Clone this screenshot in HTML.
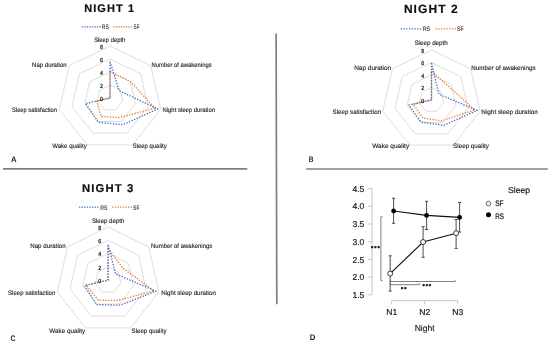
<!DOCTYPE html>
<html><head><meta charset="utf-8"><title>Figure</title>
<style>html,body{margin:0;padding:0;background:#fff;width:550px;height:343px;overflow:hidden}svg{display:block}</style>
</head><body>
<svg width="550" height="343" viewBox="0 0 550 343" text-rendering="geometricPrecision" font-family="Liberation Sans, Arial, sans-serif">
<line x1="3" y1="168.8" x2="247.3" y2="168.8" stroke="#808080" stroke-width="1.7"/>
<line x1="306.2" y1="169" x2="547.8" y2="169" stroke="#808080" stroke-width="1.7"/>
<line x1="276.1" y1="33.5" x2="276.8" y2="304.2" stroke="#808080" stroke-width="1.7"/>
<polygon points="110.00,85.00 120.16,89.89 122.67,100.89 115.64,109.71 104.36,109.71 97.33,100.89 99.84,89.89" fill="none" stroke="#D9D9D9" stroke-width="0.9"/>
<polygon points="110.00,72.00 130.33,81.79 135.35,103.79 121.28,121.43 98.72,121.43 84.65,103.79 89.67,81.79" fill="none" stroke="#D9D9D9" stroke-width="0.9"/>
<polygon points="110.00,59.00 140.49,73.68 148.02,106.68 126.92,133.14 93.08,133.14 71.98,106.68 79.51,73.68" fill="none" stroke="#D9D9D9" stroke-width="0.9"/>
<polygon points="110.00,46.00 150.66,65.58 160.70,109.57 132.56,144.85 87.44,144.85 59.30,109.57 69.34,65.58" fill="none" stroke="#D9D9D9" stroke-width="0.9"/>
<polygon points="110.00,71.35 130.58,81.59 154.68,108.20 119.45,117.62 101.12,116.45 96.69,101.04 110.00,98.00" fill="none" stroke="#ED7D31" stroke-width="1.35" stroke-dasharray="1.35 1.45" stroke-linejoin="round"/>
<polygon points="110.00,61.60 119.15,90.71 157.84,108.92 122.83,124.65 98.30,122.30 85.60,103.57 110.00,98.00" fill="none" stroke="#4472C4" stroke-width="1.35" stroke-dasharray="1.35 1.45" stroke-linejoin="round"/>
<text x="100.05" y="100.75" font-size="5.9" fill="#111" textLength="2.95" lengthAdjust="spacingAndGlyphs" stroke="#111" stroke-width="0.22">0</text>
<text x="100.05" y="87.75" font-size="5.9" fill="#111" textLength="2.95" lengthAdjust="spacingAndGlyphs" stroke="#111" stroke-width="0.22">2</text>
<text x="100.05" y="74.75" font-size="5.9" fill="#111" textLength="2.95" lengthAdjust="spacingAndGlyphs" stroke="#111" stroke-width="0.22">4</text>
<text x="100.05" y="61.75" font-size="5.9" fill="#111" textLength="2.95" lengthAdjust="spacingAndGlyphs" stroke="#111" stroke-width="0.22">6</text>
<text x="100.05" y="48.75" font-size="5.9" fill="#111" textLength="2.95" lengthAdjust="spacingAndGlyphs" stroke="#111" stroke-width="0.22">8</text>
<text x="94.20" y="41.50" font-size="6.3" fill="#222" textLength="31.10" lengthAdjust="spacingAndGlyphs" stroke="#222" stroke-width="0.12">Sleep depth</text>
<text x="151.60" y="66.90" font-size="6.3" fill="#222" textLength="60.00" lengthAdjust="spacingAndGlyphs" stroke="#222" stroke-width="0.12">Number of awakenings</text>
<text x="162.50" y="111.80" font-size="6.3" fill="#222" textLength="52.50" lengthAdjust="spacingAndGlyphs" stroke="#222" stroke-width="0.12">Night sleep duration</text>
<text x="132.80" y="148.40" font-size="6.3" fill="#222" textLength="33.80" lengthAdjust="spacingAndGlyphs" stroke="#222" stroke-width="0.12">Sleep quality</text>
<text x="52.20" y="148.40" font-size="6.3" fill="#222" textLength="34.50" lengthAdjust="spacingAndGlyphs" stroke="#222" stroke-width="0.12">Wake quality</text>
<text x="12.10" y="111.70" font-size="6.3" fill="#222" textLength="44.90" lengthAdjust="spacingAndGlyphs" stroke="#222" stroke-width="0.12">Sleep satisfaction</text>
<text x="32.10" y="66.90" font-size="6.3" fill="#222" textLength="34.50" lengthAdjust="spacingAndGlyphs" stroke="#222" stroke-width="0.12">Nap duration</text>
<text x="84.20" y="11.80" font-size="11" font-weight="bold" fill="#111" stroke="#111" stroke-width="0.2" textLength="49.80" lengthAdjust="spacing">NIGHT 1</text>
<line x1="81.7" y1="26.9" x2="100.8" y2="26.9" stroke="#4472C4" stroke-width="1.4" stroke-dasharray="1.35 1.186"/>
<line x1="113.5" y1="26.9" x2="132" y2="26.9" stroke="#ED7D31" stroke-width="1.4" stroke-dasharray="1.35 1.100"/>
<text x="101.80" y="28.80" font-size="6.6" fill="#222" textLength="6.90" lengthAdjust="spacingAndGlyphs" stroke="#222" stroke-width="0.08">RS</text>
<text x="133.60" y="28.80" font-size="6.6" fill="#222" textLength="5.90" lengthAdjust="spacingAndGlyphs" stroke="#222" stroke-width="0.08">SF</text>
<text x="11.00" y="161.90" font-size="8.1" fill="#222" font-weight="bold" textLength="5.60" lengthAdjust="spacingAndGlyphs">A</text>
<polygon points="431.50,87.50 441.27,92.21 443.69,102.78 436.92,111.26 426.08,111.26 419.31,102.78 421.73,92.21" fill="none" stroke="#D9D9D9" stroke-width="0.9"/>
<polygon points="431.50,75.00 451.05,84.41 455.87,105.56 442.35,122.52 420.65,122.52 407.13,105.56 411.95,84.41" fill="none" stroke="#D9D9D9" stroke-width="0.9"/>
<polygon points="431.50,62.50 460.82,76.62 468.06,108.34 447.77,133.79 415.23,133.79 394.94,108.34 402.18,76.62" fill="none" stroke="#D9D9D9" stroke-width="0.9"/>
<polygon points="431.50,50.00 470.59,68.83 480.25,111.13 453.19,145.05 409.81,145.05 382.75,111.13 392.41,68.83" fill="none" stroke="#D9D9D9" stroke-width="0.9"/>
<polygon points="431.50,71.25 448.60,86.36 474.76,109.87 441.53,120.83 422.82,118.02 413.22,104.17 431.50,100.00" fill="none" stroke="#ED7D31" stroke-width="1.35" stroke-dasharray="1.35 1.45" stroke-linejoin="round"/>
<polygon points="431.50,62.81 438.83,94.15 477.20,110.43 443.70,125.34 420.92,121.96 408.95,105.15 431.50,100.00" fill="none" stroke="#4472C4" stroke-width="1.35" stroke-dasharray="1.35 1.45" stroke-linejoin="round"/>
<text x="421.25" y="102.75" font-size="5.9" fill="#111" textLength="2.95" lengthAdjust="spacingAndGlyphs" stroke="#111" stroke-width="0.22">0</text>
<text x="421.25" y="90.25" font-size="5.9" fill="#111" textLength="2.95" lengthAdjust="spacingAndGlyphs" stroke="#111" stroke-width="0.22">2</text>
<text x="421.25" y="77.75" font-size="5.9" fill="#111" textLength="2.95" lengthAdjust="spacingAndGlyphs" stroke="#111" stroke-width="0.22">4</text>
<text x="421.25" y="65.25" font-size="5.9" fill="#111" textLength="2.95" lengthAdjust="spacingAndGlyphs" stroke="#111" stroke-width="0.22">6</text>
<text x="421.25" y="52.75" font-size="5.9" fill="#111" textLength="2.95" lengthAdjust="spacingAndGlyphs" stroke="#111" stroke-width="0.22">8</text>
<text x="414.40" y="45.30" font-size="6.3" fill="#222" textLength="33.40" lengthAdjust="spacingAndGlyphs" stroke="#222" stroke-width="0.12">Sleep depth</text>
<text x="471.30" y="69.50" font-size="6.3" fill="#222" textLength="64.30" lengthAdjust="spacingAndGlyphs" stroke="#222" stroke-width="0.12">Number of awakenings</text>
<text x="481.30" y="113.80" font-size="6.3" fill="#222" textLength="56.60" lengthAdjust="spacingAndGlyphs" stroke="#222" stroke-width="0.12">Night sleep duration</text>
<text x="453.10" y="148.40" font-size="6.3" fill="#222" textLength="35.90" lengthAdjust="spacingAndGlyphs" stroke="#222" stroke-width="0.12">Sleep quality</text>
<text x="372.20" y="148.40" font-size="6.3" fill="#222" textLength="37.00" lengthAdjust="spacingAndGlyphs" stroke="#222" stroke-width="0.12">Wake quality</text>
<text x="332.50" y="113.60" font-size="6.3" fill="#222" textLength="48.60" lengthAdjust="spacingAndGlyphs" stroke="#222" stroke-width="0.12">Sleep satisfaction</text>
<text x="354.20" y="69.80" font-size="6.3" fill="#222" textLength="37.00" lengthAdjust="spacingAndGlyphs" stroke="#222" stroke-width="0.12">Nap duration</text>
<text x="403.90" y="12.80" font-size="12" font-weight="bold" fill="#111" stroke="#111" stroke-width="0.2" textLength="53.70" lengthAdjust="spacing">NIGHT 2</text>
<line x1="400.8" y1="28.9" x2="421.2" y2="28.9" stroke="#4472C4" stroke-width="1.4" stroke-dasharray="1.35 1.371"/>
<line x1="435.5" y1="28.9" x2="456" y2="28.9" stroke="#ED7D31" stroke-width="1.4" stroke-dasharray="1.35 1.386"/>
<text x="422.70" y="30.90" font-size="6.6" fill="#222" textLength="7.50" lengthAdjust="spacingAndGlyphs" stroke="#222" stroke-width="0.08">RS</text>
<text x="457.10" y="30.90" font-size="6.6" fill="#222" textLength="6.60" lengthAdjust="spacingAndGlyphs" stroke="#222" stroke-width="0.08">SF</text>
<text x="308.70" y="161.70" font-size="8.1" fill="#222" font-weight="bold" textLength="4.70" lengthAdjust="spacingAndGlyphs">B</text>
<polygon points="108.10,266.83 118.26,271.82 120.77,283.05 113.74,292.06 102.46,292.06 95.43,283.05 97.94,271.82" fill="none" stroke="#D9D9D9" stroke-width="0.9"/>
<polygon points="108.10,253.55 128.43,263.55 133.45,286.01 119.38,304.02 96.82,304.02 82.75,286.01 87.77,263.55" fill="none" stroke="#D9D9D9" stroke-width="0.9"/>
<polygon points="108.10,240.28 138.59,255.27 146.12,288.96 125.02,315.98 91.18,315.98 70.08,288.96 77.61,255.27" fill="none" stroke="#D9D9D9" stroke-width="0.9"/>
<polygon points="108.10,227.00 148.76,246.99 158.80,291.92 130.66,327.94 85.54,327.94 57.40,291.92 67.44,246.99" fill="none" stroke="#D9D9D9" stroke-width="0.9"/>
<polygon points="108.10,248.24 122.84,268.10 154.04,290.81 117.69,300.43 98.51,300.43 85.92,285.27 108.10,280.10" fill="none" stroke="#ED7D31" stroke-width="1.35" stroke-dasharray="1.35 1.45" stroke-linejoin="round"/>
<polygon points="108.10,244.92 115.72,273.89 155.94,291.25 119.95,305.22 96.54,304.62 84.65,285.56 108.10,280.10" fill="none" stroke="#4472C4" stroke-width="1.35" stroke-dasharray="1.35 1.45" stroke-linejoin="round"/>
<text x="98.15" y="282.85" font-size="5.9" fill="#111" textLength="2.95" lengthAdjust="spacingAndGlyphs" stroke="#111" stroke-width="0.22">0</text>
<text x="98.15" y="269.58" font-size="5.9" fill="#111" textLength="2.95" lengthAdjust="spacingAndGlyphs" stroke="#111" stroke-width="0.22">2</text>
<text x="98.15" y="256.30" font-size="5.9" fill="#111" textLength="2.95" lengthAdjust="spacingAndGlyphs" stroke="#111" stroke-width="0.22">4</text>
<text x="98.15" y="243.03" font-size="5.9" fill="#111" textLength="2.95" lengthAdjust="spacingAndGlyphs" stroke="#111" stroke-width="0.22">6</text>
<text x="98.15" y="229.75" font-size="5.9" fill="#111" textLength="2.95" lengthAdjust="spacingAndGlyphs" stroke="#111" stroke-width="0.22">8</text>
<text x="91.90" y="223.10" font-size="6.3" fill="#222" textLength="32.30" lengthAdjust="spacingAndGlyphs" stroke="#222" stroke-width="0.12">Sleep depth</text>
<text x="151.00" y="248.40" font-size="6.3" fill="#222" textLength="61.30" lengthAdjust="spacingAndGlyphs" stroke="#222" stroke-width="0.12">Number of awakenings</text>
<text x="161.30" y="294.50" font-size="6.3" fill="#222" textLength="54.50" lengthAdjust="spacingAndGlyphs" stroke="#222" stroke-width="0.12">Night sleep duration</text>
<text x="131.60" y="332.50" font-size="6.3" fill="#222" textLength="35.00" lengthAdjust="spacingAndGlyphs" stroke="#222" stroke-width="0.12">Sleep quality</text>
<text x="49.30" y="332.70" font-size="6.3" fill="#222" textLength="36.00" lengthAdjust="spacingAndGlyphs" stroke="#222" stroke-width="0.12">Wake quality</text>
<text x="8.10" y="294.80" font-size="6.3" fill="#222" textLength="47.20" lengthAdjust="spacingAndGlyphs" stroke="#222" stroke-width="0.12">Sleep satisfaction</text>
<text x="30.20" y="248.10" font-size="6.3" fill="#222" textLength="35.50" lengthAdjust="spacingAndGlyphs" stroke="#222" stroke-width="0.12">Nap duration</text>
<text x="82.00" y="191.80" font-size="11.3" font-weight="bold" fill="#111" stroke="#111" stroke-width="0.2" textLength="51.30" lengthAdjust="spacing">NIGHT 3</text>
<line x1="79" y1="207.1" x2="98.4" y2="207.1" stroke="#4472C4" stroke-width="1.4" stroke-dasharray="1.35 1.229"/>
<line x1="112.3" y1="207.1" x2="132" y2="207.1" stroke="#ED7D31" stroke-width="1.4" stroke-dasharray="1.35 1.271"/>
<text x="100.30" y="209.50" font-size="6.6" fill="#222" textLength="7.10" lengthAdjust="spacingAndGlyphs" stroke="#222" stroke-width="0.08">RS</text>
<text x="133.10" y="209.50" font-size="6.6" fill="#222" textLength="6.30" lengthAdjust="spacingAndGlyphs" stroke="#222" stroke-width="0.08">SF</text>
<text x="10.60" y="340.60" font-size="8.1" fill="#222" font-weight="bold" textLength="4.90" lengthAdjust="spacingAndGlyphs">C</text>
<line x1="372" y1="188.60" x2="372" y2="294.80" stroke="#BDBDBD" stroke-width="0.9"/>
<line x1="368.2" y1="188.60" x2="372" y2="188.60" stroke="#BDBDBD" stroke-width="0.9"/>
<text x="364.40" y="191.70" font-size="8.6" fill="#222" text-anchor="end" stroke="#222" stroke-width="0.2">4.5</text>
<line x1="368.2" y1="206.30" x2="372" y2="206.30" stroke="#BDBDBD" stroke-width="0.9"/>
<text x="364.40" y="209.40" font-size="8.6" fill="#222" text-anchor="end" stroke="#222" stroke-width="0.2">4.0</text>
<line x1="368.2" y1="224.00" x2="372" y2="224.00" stroke="#BDBDBD" stroke-width="0.9"/>
<text x="364.40" y="227.10" font-size="8.6" fill="#222" text-anchor="end" stroke="#222" stroke-width="0.2">3.5</text>
<line x1="368.2" y1="241.70" x2="372" y2="241.70" stroke="#BDBDBD" stroke-width="0.9"/>
<text x="364.40" y="244.80" font-size="8.6" fill="#222" text-anchor="end" stroke="#222" stroke-width="0.2">3.0</text>
<line x1="368.2" y1="259.40" x2="372" y2="259.40" stroke="#BDBDBD" stroke-width="0.9"/>
<text x="364.40" y="262.50" font-size="8.6" fill="#222" text-anchor="end" stroke="#222" stroke-width="0.2">2.5</text>
<line x1="368.2" y1="277.10" x2="372" y2="277.10" stroke="#BDBDBD" stroke-width="0.9"/>
<text x="364.40" y="280.20" font-size="8.6" fill="#222" text-anchor="end" stroke="#222" stroke-width="0.2">2.0</text>
<line x1="368.2" y1="294.80" x2="372" y2="294.80" stroke="#BDBDBD" stroke-width="0.9"/>
<text x="364.40" y="297.90" font-size="8.6" fill="#222" text-anchor="end" stroke="#222" stroke-width="0.2">1.5</text>
<line x1="391.7" y1="300.7" x2="457.7" y2="300.7" stroke="#BDBDBD" stroke-width="0.9"/>
<line x1="391.7" y1="300.7" x2="391.7" y2="304.4" stroke="#BDBDBD" stroke-width="0.9"/>
<text x="391.70" y="315.10" font-size="8.6" fill="#222" text-anchor="middle" stroke="#222" stroke-width="0.2">N1</text>
<line x1="424.7" y1="300.7" x2="424.7" y2="304.4" stroke="#BDBDBD" stroke-width="0.9"/>
<text x="424.70" y="315.10" font-size="8.6" fill="#222" text-anchor="middle" stroke="#222" stroke-width="0.2">N2</text>
<line x1="457.7" y1="300.7" x2="457.7" y2="304.4" stroke="#BDBDBD" stroke-width="0.9"/>
<text x="457.70" y="315.10" font-size="8.6" fill="#222" text-anchor="middle" stroke="#222" stroke-width="0.2">N3</text>
<text x="424.70" y="330.80" font-size="8.6" fill="#222" text-anchor="middle" stroke="#222" stroke-width="0.15">Night</text>
<polyline points="382.6,216.8 380.9,216.8 380.9,280.5 382.6,280.5" fill="none" stroke="#808080" stroke-width="1"/>
<polyline points="390.2,280 390.2,281.5 455.1,281.5 455.1,280" fill="none" stroke="#808080" stroke-width="1"/>
<polyline points="390.2,283.2 390.2,284.7 419.6,284.7 419.6,283.2" fill="none" stroke="#808080" stroke-width="1"/>
<text x="370.60" y="250.30" font-size="5.4" fill="#222" font-weight="bold" font-family="Liberation Mono, monospace" stroke="#222" stroke-width="0.4">***</text>
<text x="421.90" y="287.80" font-size="5.4" fill="#222" font-weight="bold" font-family="Liberation Mono, monospace" stroke="#222" stroke-width="0.4">***</text>
<text x="400.50" y="290.80" font-size="5.4" fill="#222" font-weight="bold" font-family="Liberation Mono, monospace" stroke="#222" stroke-width="0.4">**</text>
<line x1="393.6" y1="198.2" x2="393.6" y2="223.3" stroke="#3a3a3a" stroke-width="0.9"/>
<line x1="392.0" y1="198.2" x2="395.20000000000005" y2="198.2" stroke="#3a3a3a" stroke-width="0.9"/>
<line x1="392.0" y1="223.3" x2="395.20000000000005" y2="223.3" stroke="#3a3a3a" stroke-width="0.9"/>
<line x1="426.6" y1="201.3" x2="426.6" y2="229.5" stroke="#3a3a3a" stroke-width="0.9"/>
<line x1="425.0" y1="201.3" x2="428.20000000000005" y2="201.3" stroke="#3a3a3a" stroke-width="0.9"/>
<line x1="425.0" y1="229.5" x2="428.20000000000005" y2="229.5" stroke="#3a3a3a" stroke-width="0.9"/>
<line x1="459.6" y1="202.5" x2="459.6" y2="232.1" stroke="#3a3a3a" stroke-width="0.9"/>
<line x1="458.0" y1="202.5" x2="461.20000000000005" y2="202.5" stroke="#3a3a3a" stroke-width="0.9"/>
<line x1="458.0" y1="232.1" x2="461.20000000000005" y2="232.1" stroke="#3a3a3a" stroke-width="0.9"/>
<line x1="390.2" y1="255.8" x2="390.2" y2="291.1" stroke="#3a3a3a" stroke-width="0.9"/>
<line x1="388.59999999999997" y1="255.8" x2="391.8" y2="255.8" stroke="#3a3a3a" stroke-width="0.9"/>
<line x1="388.59999999999997" y1="291.1" x2="391.8" y2="291.1" stroke="#3a3a3a" stroke-width="0.9"/>
<line x1="423.1" y1="226.7" x2="423.1" y2="257.3" stroke="#3a3a3a" stroke-width="0.9"/>
<line x1="421.5" y1="226.7" x2="424.70000000000005" y2="226.7" stroke="#3a3a3a" stroke-width="0.9"/>
<line x1="421.5" y1="257.3" x2="424.70000000000005" y2="257.3" stroke="#3a3a3a" stroke-width="0.9"/>
<line x1="456.1" y1="219.5" x2="456.1" y2="248.4" stroke="#3a3a3a" stroke-width="0.9"/>
<line x1="454.5" y1="219.5" x2="457.70000000000005" y2="219.5" stroke="#3a3a3a" stroke-width="0.9"/>
<line x1="454.5" y1="248.4" x2="457.70000000000005" y2="248.4" stroke="#3a3a3a" stroke-width="0.9"/>
<polyline points="393.6,211 426.6,215.4 459.6,217.4" fill="none" stroke="#111" stroke-width="1.2"/>
<polyline points="390.2,273.6 423.1,242 456.1,233.2" fill="none" stroke="#111" stroke-width="1.15"/>
<circle cx="393.6" cy="211" r="2.4" fill="#000"/>
<circle cx="426.6" cy="215.4" r="2.4" fill="#000"/>
<circle cx="459.6" cy="217.4" r="2.4" fill="#000"/>
<circle cx="390.2" cy="273.6" r="2.5" fill="#fff" stroke="#222" stroke-width="0.9"/>
<circle cx="423.1" cy="242" r="2.5" fill="#fff" stroke="#222" stroke-width="0.9"/>
<circle cx="456.1" cy="233.2" r="2.5" fill="#fff" stroke="#222" stroke-width="0.9"/>
<text x="508.00" y="193.40" font-size="8.6" fill="#222" stroke="#222" stroke-width="0.2">Sleep</text>
<circle cx="488.5" cy="203.6" r="2.3" fill="#fff" stroke="#555" stroke-width="0.9"/>
<circle cx="488.5" cy="214.7" r="2.5" fill="#000"/>
<text x="495.20" y="206.00" font-size="8.0" fill="#222" textLength="8.50" lengthAdjust="spacingAndGlyphs" stroke="#222" stroke-width="0.25">SF</text>
<text x="495.20" y="218.60" font-size="8.0" fill="#222" textLength="8.70" lengthAdjust="spacingAndGlyphs" stroke="#222" stroke-width="0.25">RS</text>
<text x="309.70" y="339.90" font-size="8.1" fill="#222" font-weight="bold" textLength="5.60" lengthAdjust="spacingAndGlyphs">D</text>
</svg>
</body></html>
